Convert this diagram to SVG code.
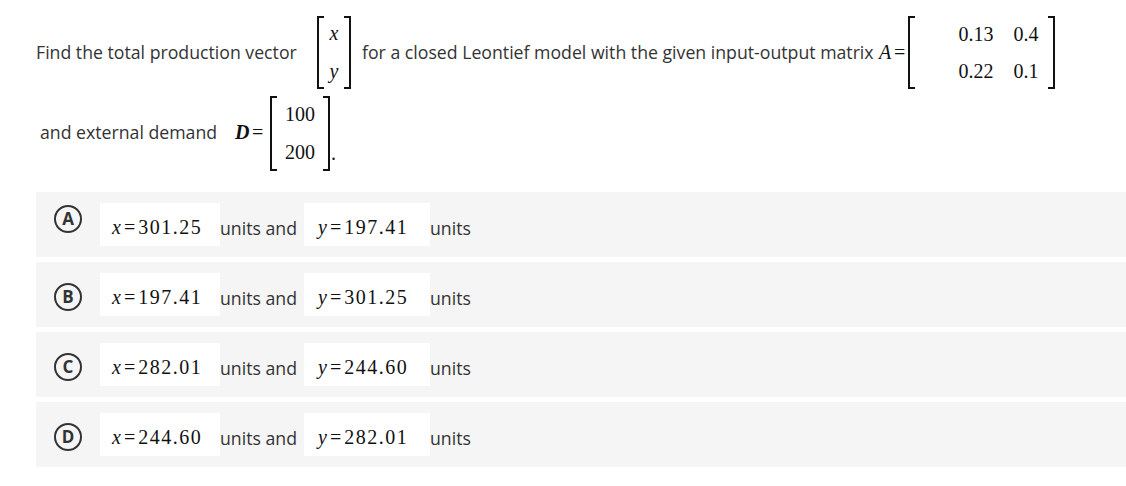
<svg xmlns="http://www.w3.org/2000/svg" width="1126" height="486" viewBox="0 0 1126 486">
<style>
.t{font-family:"Open Sans",sans-serif;font-size:17.7px;fill:#333}
.m{font-family:"Liberation Serif",serif;font-size:20px;fill:#111}
.n{letter-spacing:1.5px}
.i{font-style:italic}
.br{fill:none;stroke:#111;stroke-width:2}
.row{fill:#f5f5f5}
.box{fill:#fff}
.c{fill:none;stroke:#333;stroke-width:2}
.l{font-family:"Open Sans",sans-serif;font-size:17px;font-weight:bold;fill:#333;text-anchor:middle}
</style>
<rect width="1126" height="486" fill="#fff"/>
<g id="question">
<text class="t" x="36" y="59">Find the total production vector</text>
<path class="br" d="M324,17 H318 V88 H324 M344,17 H350 V88 H344"/>
<text class="m i" x="334" y="40" text-anchor="middle">x</text>
<text class="m i" x="334" y="78" text-anchor="middle">y</text>
<text class="t" x="362" y="59">for a closed Leontief model with the given input-output matrix</text>
<text class="m i" x="879" y="59">A</text>
<text class="m" x="894" y="59">=</text>
<path class="br" d="M915,17 H909 V88 H915 M1048,17 H1054 V88 H1048"/>
<text class="m" x="976" y="41" text-anchor="middle">0.13</text>
<text class="m" x="1026" y="41" text-anchor="middle">0.4</text>
<text class="m" x="976" y="78" text-anchor="middle">0.22</text>
<text class="m" x="1026" y="78" text-anchor="middle">0.1</text>
<text class="t" x="40" y="139">and external demand</text>
<text class="m i" x="235" y="139" font-weight="bold">D</text>
<text class="m" x="252" y="139">=</text>
<path class="br" d="M277,97 H271 V170 H277 M323,97 H329 V170 H323"/>
<text class="m" x="300" y="121" text-anchor="middle">100</text>
<text class="m" x="300" y="159" text-anchor="middle">200</text>
<text class="m" x="331" y="160">.</text>
</g>
<g id="optA">
<rect class="row" x="36" y="192" width="1090" height="65"/>
<rect class="box" x="100" y="203" width="120" height="43"/>
<rect class="box" x="304" y="203" width="126" height="43"/>
<circle class="c" cx="68" cy="219" r="13"/><text class="l" x="68" y="225">A</text>
<text class="m" x="112" y="234"><tspan class="i">x</tspan><tspan dx="3">=</tspan><tspan class="n" dx="3">301.25</tspan></text>
<text class="t" x="220" y="235">units and</text>
<text class="m" x="318" y="234"><tspan class="i">y</tspan><tspan dx="3">=</tspan><tspan class="n" dx="3">197.41</tspan></text>
<text class="t" x="430" y="235">units</text>
</g>
<g id="optB">
<rect class="row" x="36" y="262" width="1090" height="65"/>
<rect class="box" x="100" y="273" width="120" height="43"/>
<rect class="box" x="304" y="273" width="126" height="43"/>
<circle class="c" cx="68" cy="297" r="13"/><text class="l" x="68" y="303">B</text>
<text class="m" x="112" y="304"><tspan class="i">x</tspan><tspan dx="3">=</tspan><tspan class="n" dx="3">197.41</tspan></text>
<text class="t" x="220" y="305">units and</text>
<text class="m" x="318" y="304"><tspan class="i">y</tspan><tspan dx="3">=</tspan><tspan class="n" dx="3">301.25</tspan></text>
<text class="t" x="430" y="305">units</text>
</g>
<g id="optC">
<rect class="row" x="36" y="332" width="1090" height="65"/>
<rect class="box" x="100" y="343" width="120" height="43"/>
<rect class="box" x="304" y="343" width="126" height="43"/>
<circle class="c" cx="68" cy="367" r="13"/><text class="l" x="68" y="373">C</text>
<text class="m" x="112" y="374"><tspan class="i">x</tspan><tspan dx="3">=</tspan><tspan class="n" dx="3">282.01</tspan></text>
<text class="t" x="220" y="375">units and</text>
<text class="m" x="318" y="374"><tspan class="i">y</tspan><tspan dx="3">=</tspan><tspan class="n" dx="3">244.60</tspan></text>
<text class="t" x="430" y="375">units</text>
</g>
<g id="optD">
<rect class="row" x="36" y="402" width="1090" height="65"/>
<rect class="box" x="100" y="413" width="120" height="43"/>
<rect class="box" x="304" y="413" width="126" height="43"/>
<circle class="c" cx="68" cy="437" r="13"/><text class="l" x="68" y="443">D</text>
<text class="m" x="112" y="444"><tspan class="i">x</tspan><tspan dx="3">=</tspan><tspan class="n" dx="3">244.60</tspan></text>
<text class="t" x="220" y="445">units and</text>
<text class="m" x="318" y="444"><tspan class="i">y</tspan><tspan dx="3">=</tspan><tspan class="n" dx="3">282.01</tspan></text>
<text class="t" x="430" y="445">units</text>
</g>
<g id="connectors"/>
</svg>
